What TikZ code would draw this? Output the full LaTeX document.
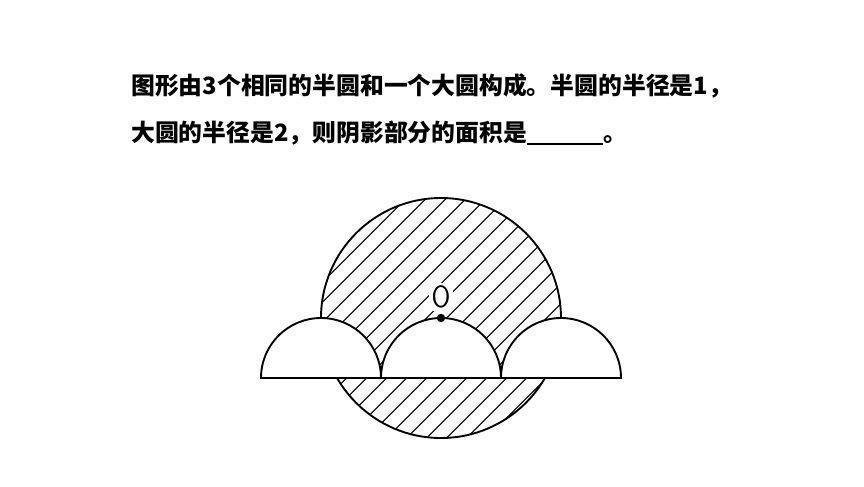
\documentclass[tikz,border=0pt]{standalone}
\usepackage{fontspec}
\usepackage{tikz}
\usetikzlibrary{positioning}
\newfontfamily\cjk{Noto Sans CJK SC}
\tikzstyle{qtext}=[%
      anchor=west, inner sep=0pt, font=\cjk\bfseries\fontsize{11.3}{13}\selectfont
]
\tikzstyle{outline}=[%
      draw=black, line width=0.9pt
]
\tikzstyle{hatch}=[%
      draw=black, line width=0.45pt
]

\begin{document}
\begin{tikzpicture}
    \useasboundingbox (-7.35,-2.8) rectangle (7.05,5.3);
    % question
    \node[qtext] (line1) at (-5.17,3.87) {图形由3个相同的半圆和一个大圆构成。半圆的半径是1，};
    \node[qtext] (line2) at (-5.17,3.08) {大圆的半径是2，则阴影部分的面积是\rule[-0.12em]{3.2em}{0.9pt}。};
    % big circle with hatching
    \begin{scope}
      \clip (0,0) circle (2);
      \foreach \k in {-15,...,15}
        \draw[hatch] (-3,{-3+0.24+\k/3}) -- (3,{3+0.24+\k/3});
    \end{scope}
    \draw[outline] (0,0) circle (2);
    % three half circles
    \foreach \cx in {-2,0,2}
      \draw[outline, fill=white] (\cx-1,-1) arc (180:0:1) -- cycle;
    \draw[outline] (-3,-1) -- (3,-1);
    % centre
    \fill (0,0) circle (0.07);
    \node[fill=white, inner sep=1.5pt, font=\sffamily\fontsize{14.5}{15}\selectfont, xscale=0.85] (o) at (0,0.35) {O};
\end{tikzpicture}
\end{document}
